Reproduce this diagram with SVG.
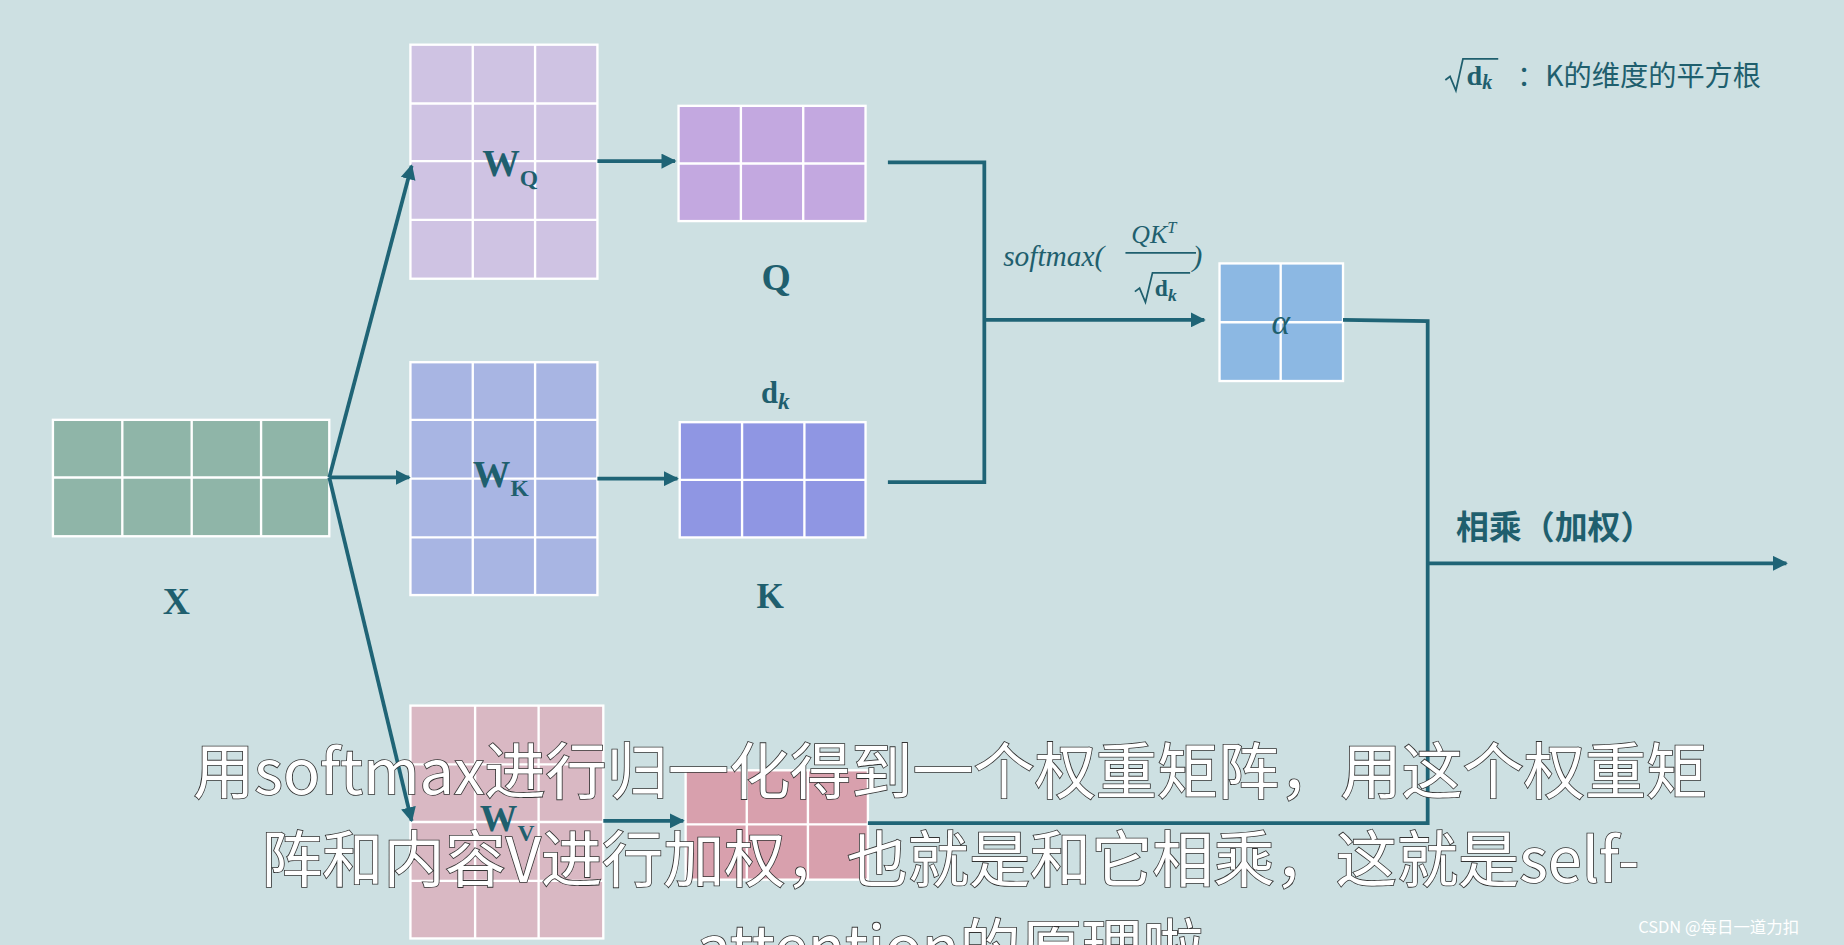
<svg xmlns="http://www.w3.org/2000/svg" width="1844" height="945" viewBox="0 0 1844 945">
<defs>
<marker id="ah" viewBox="0 0 10 10" refX="9" refY="5" markerWidth="4" markerHeight="4" orient="auto"><path d="M0,0 L10,5 L0,10 z" fill="#1f6476"/></marker>
<style>
.g{stroke:#fff;stroke-width:2}
.c{fill:none;stroke:#1f6476;stroke-width:3.2}
.lbl{font-family:"Liberation Serif",serif;font-weight:bold;fill:#1f5f6e}
.it{font-family:"Liberation Serif",serif;font-style:italic;fill:#1f5f6e}
.sub{font-family:"Noto Sans CJK SC",sans-serif;font-size:52px;fill:#fff;stroke:#333;stroke-width:1.4;paint-order:stroke;text-anchor:middle}
</style>
</defs>
<rect width="1844" height="945" fill="#cde0e2"/>
<g transform="scale(1.17602)">
<g id="X">
<rect x="45" y="357" width="235" height="99" fill="#8fb5a8" class="g"/>
<path d="M104,357V456M163,357V456M222,357V456M45,406H280" class="g"/>
<text x="150" y="522" font-size="32" class="lbl" text-anchor="middle">X</text>
</g>
<g id="WQ">
<rect x="349" y="38" width="159" height="199" fill="#cfc3e3" class="g"/>
<path d="M402,38V237M455,38V237M349,88H508M349,137H508M349,187H508" class="g"/>
<text x="410" y="150" font-size="32" class="lbl">W<tspan font-size="20" dy="8">Q</tspan></text>
</g>
<g id="WK">
<rect x="349" y="308" width="159" height="198" fill="#a8b5e3" class="g"/>
<path d="M402,308V506M455,308V506M349,357H508M349,407H508M349,457H508" class="g"/>
<text x="402" y="414" font-size="32" class="lbl">W<tspan font-size="20" dy="8">K</tspan></text>
</g>
<g id="WV">
<rect x="349" y="600" width="164" height="198" fill="#d9b8c3" class="g"/>
<path d="M404,600V798M458,600V798M349,650H513M349,699H513M349,749H513" class="g"/>
<text x="408" y="707" font-size="32" class="lbl">W<tspan font-size="20" dy="8">V</tspan></text>
</g>
<g id="Q">
<rect x="577" y="90" width="159" height="98" fill="#c3a8e0" class="g"/>
<path d="M630,90V188M683,90V188M577,139H736" class="g"/>
<text x="660" y="247" font-size="32" class="lbl" text-anchor="middle">Q</text>
</g>
<g id="K">
<rect x="578" y="359" width="158" height="98" fill="#8f96e3" class="g"/>
<path d="M631,359V457M684,359V457M578,408H736" class="g"/>
<text x="655" y="517" font-size="30" class="lbl" text-anchor="middle">K</text>
<text x="647" y="343" font-size="26" class="lbl" font-weight="normal">d<tspan class="it" font-size="20" dy="5">k</tspan></text>
</g>
<g id="V">
<rect x="583" y="655" width="155" height="93" fill="#d8a0ad" class="g"/>
<path d="M635,655V748M687,655V748M583,701H738" class="g"/>
</g>
<g id="alpha">
<rect x="1037" y="224" width="105" height="100" fill="#8cb8e3" class="g"/>
<path d="M1089,224V324M1037,274H1142" class="g"/>
<text x="1089" y="284" font-size="30" class="it" text-anchor="middle">α</text>
</g>
<g id="connectors">
<path d="M280,406L350,141" class="c" marker-end="url(#ah)"/>
<path d="M280,406H348" class="c" marker-end="url(#ah)"/>
<path d="M280,406L350,698" class="c" marker-end="url(#ah)"/>
<path d="M508,137H574" class="c" marker-end="url(#ah)"/>
<path d="M508,407H576" class="c" marker-end="url(#ah)"/>
<path d="M513,698H581" class="c" marker-end="url(#ah)"/>
<path d="M755,138H837V410H755" class="c"/>
<path d="M837,272H1024" class="c" marker-end="url(#ah)"/>
<path d="M1142,272L1214,273V700H738" class="c"/>
<path d="M1214,479H1519" class="c" marker-end="url(#ah)"/>
</g>
<g id="labels">
<text x="853" y="226" font-size="25" class="it">softmax(</text>
<text x="962" y="207" font-size="22" class="it">QK<tspan font-size="14" dy="-9">T</tspan></text>
<path d="M957,215H1017" stroke="#1f5f6e" stroke-width="1.5"/>
<text x="1014" y="226" font-size="25" class="it">)</text>
<path d="M965,248l4,-3l5,12l6,-25h32" fill="none" stroke="#1f5f6e" stroke-width="1.5"/>
<text x="982" y="252" font-size="20" class="lbl" font-weight="normal">d<tspan class="it" font-size="15" dy="4">k</tspan></text>
<text x="1238" y="458" font-family="Noto Sans CJK SC,sans-serif" font-size="28" font-weight="bold" fill="#1f5f6e">相乘（加权）</text>
<path d="M1229,68l4,-3l5,12l6,-27h30" fill="none" stroke="#1f5f6e" stroke-width="1.5"/>
<text x="1247" y="72" font-size="24" class="lbl" font-weight="normal">d<tspan class="it" font-size="17" dy="4">k</tspan></text>
<text x="1290" y="73" font-family="Noto Sans CJK SC,sans-serif" font-size="24" fill="#1f5f6e">：K的维度的平方根</text>
</g>
<g id="subtitle">
<text x="808" y="675" class="sub">用softmax进行归一化得到一个权重矩阵，用这个权重矩</text>
<text x="808" y="750" class="sub">阵和内容V进行加权，也就是和它相乘，这就是self-</text>
<text x="808" y="825" class="sub">attention的原理啦</text>
<text x="1393" y="793" font-family="Noto Sans CJK SC,sans-serif" font-size="14" fill="#fff">CSDN @每日一道力扣</text>
</g>
</g>
</svg>
